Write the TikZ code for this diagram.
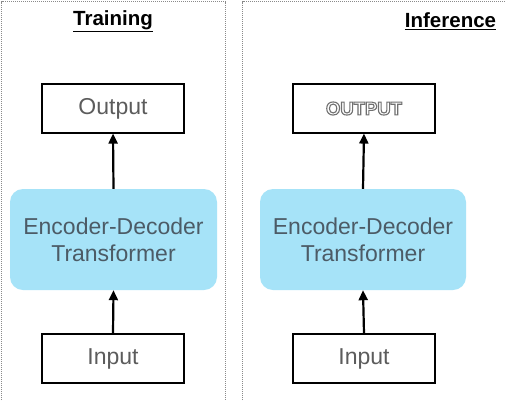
\documentclass[tikz,border=0pt]{standalone}
\usepackage{fontspec}
\setmainfont{Liberation Sans}
\usetikzlibrary{arrows.meta}
\definecolor{panelgray}{HTML}{8A8A8A}
\definecolor{boxtext}{HTML}{5C5C5C}
\definecolor{tfill}{HTML}{A6E3F8}
\definecolor{ttext}{HTML}{4C5B66}
\definecolor{outgray}{HTML}{707070}
\newcommand{\hollowtext}[1]{\special{pdf:literal direct 1 Tr 1.1 w}#1\special{pdf:literal direct 0 Tr 1 w}}
\tikzset{
  panel/.style={draw=panelgray, line width=1pt, dash pattern=on 1pt off 1pt},
  iobox/.style={draw=black, line width=1.1pt, fill=white, minimum width=142pt, minimum height=49pt, inner sep=0pt, text=boxtext, font=\fontsize{23}{27}\selectfont},
  tbox/.style={fill=tfill, rounded corners=13pt, minimum height=101pt, inner sep=0pt, text=ttext, align=center, font=\fontsize{23}{27}\selectfont},
  title/.style={font=\fontsize{20.5}{24}\selectfont\bfseries, text=black, inner sep=0pt},
  flow/.style={-{Triangle[length=10pt,width=9pt]}, line width=2.2pt, black}
}
\begin{document}
\begin{tikzpicture}[x=1pt,y=-1pt]
\useasboundingbox (0,0) rectangle (506,400);
\fill[white] (0,0) rectangle (506,400);
% panels
\draw[panel] (1.5,410) -- (1.5,1.5) -- (225.5,1.5) -- (225.5,410);
\draw[panel] (242.5,410) -- (242.5,1.5) -- (520,1.5);
% titles
\node[title] (ttrain) at (113,21) {\underline{Training}};
\node[title] (tinf) at (450.5,21) {\underline{Inference}};
% training column
\node[iobox] (out1) at (113,108.5) {Output};
\node[tbox, minimum width=207pt] (tr1) at (113.5,239.5) {Encoder-Decoder\\Transformer};
\node[iobox] (in1) at (113,358.5) {Input};
\draw[flow] (in1.north) -- (tr1.south);
\draw[flow] (tr1.north) -- (out1.south);
% inference column
\node[iobox, text=outgray] (out2) at (364,108.5) {\fontsize{18.5}{22}\selectfont\bfseries\hollowtext{OUTPUT}};
\node[tbox, minimum width=206pt] (tr2) at (363,239.5) {Encoder-Decoder\\Transformer};
\node[iobox] (in2) at (364,358.5) {Input};
\draw[flow] (in2.north) -- (tr2.south);
\draw[flow] (tr2.north) -- (out2.south);
\end{tikzpicture}
\end{document}
